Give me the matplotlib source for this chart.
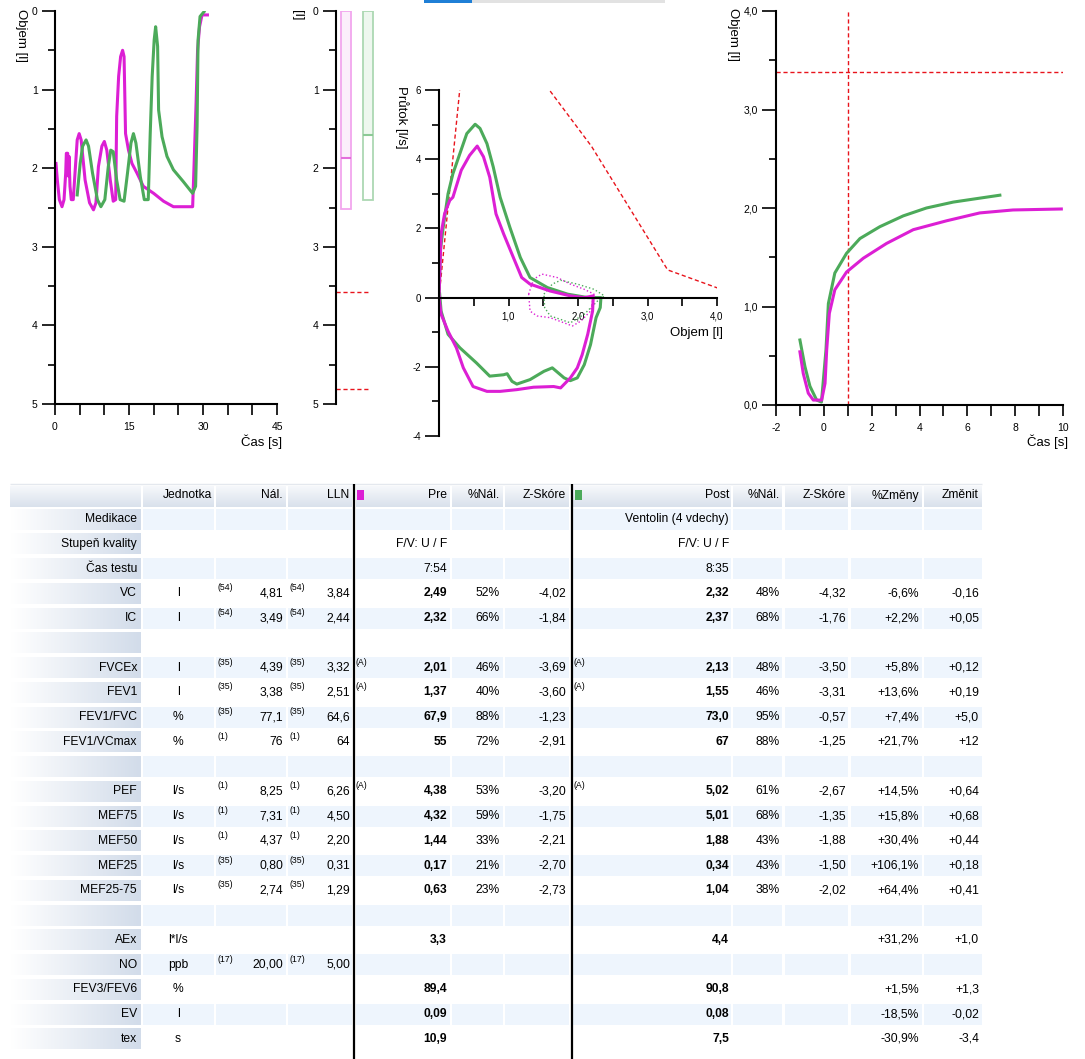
import numpy as np
import matplotlib.pyplot as plt
from matplotlib.patches import Rectangle
from matplotlib.colors import LinearSegmentedColormap

plt.rcParams['font.family'] = ['Liberation Sans', 'DejaVu Sans']
plt.rcParams['axes.unicode_minus'] = False

PRE = '#dc1fd4'
POST = '#4caa5a'
RED = '#e8141c'

# ---- tidal breathing + VC manoeuvre (volume vs time) ----
trend_t_pre = [0.2, 0.47, 0.88, 1.42, 1.83, 2.17, 2.3, 2.57, 2.7, 2.84, 3.04, 3.3, 3.7, 4.1, 4.5,
               4.9, 5.3, 6.1, 7.0, 7.8, 8.3, 8.8, 9.5, 10.0, 10.5, 11.2, 11.8, 12.3, 12.5, 12.9,
               13.3, 13.7, 14.0, 14.3, 14.9, 15.6, 16.6, 17.9, 20.0, 22.0, 24.0, 27.9, 28.2,
               28.6, 28.9, 29.3, 29.8, 30.9]
trend_v_pre = [1.94, 2.15, 2.40, 2.49, 2.40, 2.06, 1.81, 1.81, 2.10, 1.85, 2.23, 2.40, 2.40, 2.02, 1.64,
               1.56, 1.64, 2.15, 2.44, 2.53, 2.44, 1.98, 1.72, 1.66, 1.77, 2.15, 2.42, 2.40, 1.34, 0.83,
               0.58, 0.50, 0.58, 1.56, 1.77, 1.94, 2.06, 2.23, 2.32, 2.42, 2.49, 2.49, 1.94,
               1.17, 0.50, 0.20, 0.05, 0.05]
trend_t_post = [4.5, 5.1, 5.6, 6.3, 6.8, 7.6, 8.6, 9.3, 10.1, 10.8, 11.3, 11.8, 12.5, 13.2, 14.0,
                14.7, 15.4, 15.9, 16.4, 17.3, 18.1, 18.9, 19.3, 19.7, 20.1, 20.4, 20.8, 21.0, 21.7,
                22.7, 24.0, 26.0, 27.9, 28.5, 28.8, 29.0, 29.4, 30.2]
trend_v_post = [2.34, 1.94, 1.72, 1.64, 1.72, 2.06, 2.40, 2.49, 2.40, 1.98, 1.77, 1.79, 2.15, 2.40, 2.42,
                2.06, 1.68, 1.56, 1.68, 2.11, 2.40, 2.40, 1.56, 0.83, 0.37, 0.20, 0.45, 1.26, 1.60,
                1.85, 2.02, 2.17, 2.32, 2.23, 1.47, 0.37, 0.07, 0.01]

# ---- volume bars (pre, post) ----
bar_bottom = [2.52, 2.40]
bar_mark = [1.87, 1.58]
bar_pred_lines = [3.57, 4.81]

# ---- flow-volume loops ----
fv_pre_x = [0.0, 0.03, 0.08, 0.155, 0.2, 0.32, 0.44, 0.55, 0.64, 0.73, 0.82, 0.93, 1.07, 1.19, 1.31,
            1.6, 1.89, 2.09, 2.22, 2.21, 2.14, 2.06, 1.99, 1.89, 1.75, 1.65, 1.36, 1.12, 0.88, 0.69,
            0.49, 0.35, 0.25, 0.13, 0.03, 0.0]
fv_pre_y = [0.0, 1.84, 2.42, 2.81, 2.9, 3.68, 4.11, 4.38, 4.07, 3.48, 2.42, 1.84, 1.16, 0.58, 0.39,
            0.19, 0.05, 0.0, 0.05, -0.39, -1.06, -1.65, -2.03, -2.32, -2.61, -2.57, -2.59, -2.66, -2.71, -2.71,
            -2.57, -2.03, -1.45, -0.97, -0.48, 0.0]
fv_post_x = [0.0, 0.02, 0.06, 0.13, 0.2, 0.3, 0.4, 0.52, 0.59, 0.69, 0.78, 0.88, 1.02, 1.17, 1.31,
             1.56, 1.85, 2.14, 2.33, 2.32, 2.26, 2.18, 2.09, 1.99, 1.89, 1.8, 1.63, 1.51, 1.31, 1.12,
             1.05, 0.98, 0.93, 0.73, 0.54, 0.3, 0.13, 0.03, 0.01]
fv_post_y = [0.0, 1.36, 2.03, 3.0, 3.58, 4.16, 4.74, 5.01, 4.89, 4.45, 3.78, 2.9, 2.03, 1.16, 0.58,
             0.29, 0.1, 0.0, 0.0, -0.29, -0.58, -1.36, -1.94, -2.32, -2.4, -2.32, -2.03, -2.13, -2.37, -2.5,
             -2.42, -2.2, -2.23, -2.27, -1.89, -1.45, -1.06, -0.39, 0.1]
tidal_pre_x = [1.29, 1.36, 1.48, 1.7, 1.89, 2.09, 2.23, 2.18, 2.04, 1.92, 1.8, 1.6, 1.41, 1.31, 1.29]
tidal_pre_y = [0.1, 0.53, 0.68, 0.58, 0.39, 0.24, 0.1, -0.39, -0.68, -0.82, -0.73, -0.58, -0.53, -0.39, 0.1]
tidal_post_x = [1.51, 1.63, 1.75, 1.99, 2.23, 2.38, 2.28, 2.09, 1.89, 1.75, 1.6, 1.52, 1.51]
tidal_post_y = [0.1, 0.39, 0.5, 0.39, 0.24, 0.05, -0.1, -0.48, -0.73, -0.63, -0.53, -0.29, 0.1]
fv_pred_x = [0.0, 0.41, 1.10, 2.195, 3.29, 4.39]
fv_pred_y = [0.0, 8.25, 7.31, 4.37, 0.80, 0.0]
fv_xticklabels = ['1,0', '2,0', '3,0', '4,0']

# ---- forced expiration (volume vs time) ----
vt_pre_t = [-1.0, -0.86, -0.65, -0.44, -0.23, -0.09, 0.05, 0.12, 0.23, 0.46, 0.95, 1.65, 2.62,
            3.74, 5.13, 6.52, 7.91, 9.93]
vt_pre_v = [0.54, 0.32, 0.12, 0.05, 0.05, 0.05, 0.22, 0.56, 0.93, 1.17, 1.35, 1.49, 1.64,
            1.78, 1.87, 1.95, 1.98, 1.99]
vt_post_t = [-1.0, -0.79, -0.58, -0.3, -0.1, 0.09, 0.19, 0.46, 0.95, 1.51, 2.34, 3.32, 4.29,
             5.41, 6.52, 7.36]
vt_post_v = [0.66, 0.39, 0.19, 0.05, 0.03, 0.56, 1.03, 1.34, 1.54, 1.69, 1.81, 1.92, 2.0,
             2.06, 2.1, 2.13]
fev1_pred = 3.38
fev1_time = 1.0
vt_yticklabels = ['0,0', '1,0', '2,0', '3,0', '4,0']

# ---- table ----
row_labels = ['Medikace', 'Stupeň kvality', 'Čas testu', 'VC', 'IC', '', 'FVCEx', 'FEV1', 'FEV1/FVC',
              'FEV1/VCmax', '', 'PEF', 'MEF75', 'MEF50', 'MEF25', 'MEF25-75', '', 'AEx', 'NO',
              'FEV3/FEV6', 'EV', 'tex']
units = ['', '', '', 'l', 'l', '', 'l', 'l', '%', '%', '', 'l/s', 'l/s', 'l/s', 'l/s', 'l/s', '',
         'l*l/s', 'ppb', '%', 'l', 's']
ref_src = ['', '', '', '(54)', '(54)', '', '(35)', '(35)', '(35)', '(1)', '', '(1)', '(1)', '(1)',
           '(35)', '(35)', '', '', '(17)', '', '', '']
pred_vals = ['', '', '', '4,81', '3,49', '', '4,39', '3,38', '77,1', '76', '', '8,25', '7,31', '4,37',
             '0,80', '2,74', '', '', '20,00', '', '', '']
lln_vals = ['', '', '', '3,84', '2,44', '', '3,32', '2,51', '64,6', '64', '', '6,26', '4,50', '2,20',
            '0,31', '1,29', '', '', '5,00', '', '', '']
flags = ['', '', '', '', '', '', '(A)', '(A)', '', '', '', '(A)', '', '', '', '', '', '', '', '', '', '']
pre_vals = ['', 'F/V: U / F', '7:54', '2,49', '2,32', '', '2,01', '1,37', '67,9', '55', '', '4,38', '4,32',
            '1,44', '0,17', '0,63', '', '3,3', '', '89,4', '0,09', '10,9']
pre_pct = ['', '', '', '52%', '66%', '', '46%', '40%', '88%', '72%', '', '53%', '59%', '33%', '21%',
           '23%', '', '', '', '', '', '']
pre_z = ['', '', '', '-4,02', '-1,84', '', '-3,69', '-3,60', '-1,23', '-2,91', '', '-3,20', '-1,75',
         '-2,21', '-2,70', '-2,73', '', '', '', '', '', '']
post_vals = ['Ventolin (4 vdechy)', 'F/V: U / F', '8:35', '2,32', '2,37', '', '2,13', '1,55', '73,0', '67',
             '', '5,02', '5,01', '1,88', '0,34', '1,04', '', '4,4', '', '90,8', '0,08', '7,5']
post_pct = ['', '', '', '48%', '68%', '', '48%', '46%', '95%', '88%', '', '61%', '68%', '43%', '43%',
            '38%', '', '', '', '', '', '']
post_z = ['', '', '', '-4,32', '-1,76', '', '-3,50', '-3,31', '-0,57', '-1,25', '', '-2,67', '-1,35',
          '-1,88', '-1,50', '-2,02', '', '', '', '', '', '']
chg_pct = ['', '', '', '-6,6%', '+2,2%', '', '+5,8%', '+13,6%', '+7,4%', '+21,7%', '', '+14,5%',
           '+15,8%', '+30,4%', '+106,1%', '+64,4%', '', '+31,2%', '', '+1,5%', '-18,5%', '-30,9%']
chg_abs = ['', '', '', '-0,16', '+0,05', '', '+0,12', '+0,19', '+5,0', '+12', '', '+0,64', '+0,68',
           '+0,44', '+0,18', '+0,41', '', '+1,0', '', '+1,3', '-0,02', '-3,4']
headers = ['Jednotka', 'Nál.', 'LLN', 'Pre', '%Nál.', 'Z-Skóre', 'Post', '%Nál.', 'Z-Skóre',
           '%Změny', 'Změnit']

W, H = 1085, 1059
fig = plt.figure(figsize=(W / 100, H / 100), dpi=100)


def px_axes(x0, y0, x1, y1):
    return fig.add_axes([x0 / W, 1 - y1 / H, (x1 - x0) / W, (y1 - y0) / H])


def style_axes(ax, spines=('left', 'bottom')):
    for s in ['left', 'right', 'top', 'bottom']:
        ax.spines[s].set_visible(s in spines)
        ax.spines[s].set_linewidth(1.5)
    ax.patch.set_alpha(0)
    ax.tick_params(labelsize=7.5, width=1.2)


# table overlay (full figure, pixel coords)
tab = fig.add_axes([0, 0, 1, 1])
tab.axis('off')

# top scroll marker
tab.add_patch(Rectangle((424, 0), 48, 2.5, color='#1f7fd6', lw=0))
tab.add_patch(Rectangle((472, 0), 193, 2.5, color='#e2e2e2', lw=0))

# ---- panel 1 ----
ax1 = px_axes(55, 11, 277, 404)
style_axes(ax1)
ax1.plot(trend_t_pre, trend_v_pre, color=PRE, lw=2.2)
ax1.plot(trend_t_post, trend_v_post, color=POST, lw=2.2)
ax1.set_xlim(0, 45)
ax1.set_ylim(5, 0)
ax1.set_xticks([0, 15, 30, 45])
ax1.set_xticks(np.arange(0, 46, 5), minor=True)
ax1.set_yticks(range(6))
ax1.set_yticks(np.arange(0, 5.01, 0.5), minor=True)
ax1.tick_params(axis='x', which='both', length=8, width=1.2, pad=5)
ax1.tick_params(axis='y', which='major', length=9.5, pad=3)
ax1.tick_params(axis='y', which='minor', length=5, width=1.2)
fig.text(21 / W, 1 - 9 / H, 'Objem [l]', rotation=270, ha='center', va='top', fontsize=9.5)
fig.text(282 / W, 1 - 442 / H, 'Čas [s]', ha='right', va='center', fontsize=9.5)

# ---- panel 2 ----
ax2 = px_axes(336, 11, 376, 404)
style_axes(ax2, spines=('left',))
ax2.bar([10, 32], bar_mark, width=10, bottom=0, color=['#fbeefb', '#eef7ef'], lw=0)
ax2.bar([10, 32], bar_bottom, width=10, bottom=0, fill=False,
        edgecolor=['#f2a6ee', '#acd8b3'], lw=1.3)
ax2.hlines(bar_mark[0], 5, 15, color='#e36fdc', lw=1.5)
ax2.hlines(bar_mark[1], 27, 37, color='#8cc996', lw=1.5)
ax2.hlines(bar_pred_lines, 0, 34, color=RED, lw=1, linestyles=(0, (3, 2)))
ax2.set_xlim(0, 40)
ax2.set_ylim(5, 0)
ax2.set_xticks([])
ax2.set_yticks(range(6))
ax2.set_yticks(np.arange(0, 5.01, 0.5), minor=True)
ax2.tick_params(axis='y', which='major', length=9.5, pad=3)
ax2.tick_params(axis='y', which='minor', length=5, width=1.2)
fig.text(297 / W, 1 - 10 / H, '[l]', rotation=270, ha='center', va='top', fontsize=9.5)

# ---- panel 3: flow-volume ----
ax3 = px_axes(439, 90, 717, 436)
style_axes(ax3)
ax3.spines['bottom'].set_position(('data', 0))
ax3.plot(fv_pred_x, fv_pred_y, color=RED, lw=1, ls=(0, (3, 2)))
ax3.plot(tidal_pre_x, tidal_pre_y, color=PRE, lw=1, ls=':')
ax3.plot(tidal_post_x, tidal_post_y, color=POST, lw=1, ls=':')
ax3.plot(fv_post_x, fv_post_y, color=POST, lw=2.2)
ax3.plot(fv_pre_x, fv_pre_y, color=PRE, lw=2.2)
ax3.set_xlim(0, 4)
ax3.set_ylim(-4, 6)
ax3.set_xticks([1, 2, 3, 4])
ax3.set_xticklabels(fv_xticklabels)
ax3.set_xticks([0.5, 1.5, 2.5, 3.5], minor=True)
ax3.set_yticks([-4, -2, 0, 2, 4, 6])
ax3.set_yticks([-3, -1, 1, 3, 5], minor=True)
ax3.tick_params(labelsize=7)
ax3.tick_params(axis='x', which='both', length=6, width=1.2, pad=4)
ax3.tick_params(axis='y', which='major', length=10, pad=3)
ax3.tick_params(axis='y', which='minor', length=5, width=1.2)
fig.text(402 / W, 1 - 86 / H, 'Průtok [l/s]', rotation=270, ha='center', va='top', fontsize=9.5)
fig.text(723 / W, 1 - 333 / H, 'Objem [l]', ha='right', va='center', fontsize=9.5)

# ---- panel 4: volume-time ----
ax4 = px_axes(776, 11, 1063, 405)
style_axes(ax4)
ax4.axhline(fev1_pred, color=RED, lw=1, ls=(0, (3, 2)))
ax4.axvline(fev1_time, color=RED, lw=1, ls=(0, (3, 2)))
ax4.plot(vt_post_t, vt_post_v, color=POST, lw=2.2)
ax4.plot(vt_pre_t, vt_pre_v, color=PRE, lw=2.2)
ax4.set_xlim(-2, 10)
ax4.set_ylim(0, 4)
ax4.set_xticks(range(-2, 11, 2))
ax4.set_xticks(range(-1, 10, 2), minor=True)
ax4.set_yticks(range(5))
ax4.set_yticklabels(vt_yticklabels)
ax4.set_yticks(np.arange(0.5, 4, 1), minor=True)
ax4.tick_params(axis='x', which='both', length=8, width=1.2, pad=5)
ax4.tick_params(axis='y', which='major', length=10, pad=3)
ax4.tick_params(axis='y', which='minor', length=5, width=1.2)
fig.text(733 / W, 1 - 8 / H, 'Objem [l]', rotation=270, ha='center', va='top', fontsize=9.5)
fig.text(1068 / W, 1 - 442 / H, 'Čas [s]', ha='right', va='center', fontsize=9.5)

# ---- table drawing ----
cells = [(143, 214), (216, 286), (288, 352), (356, 450), (452, 503), (505, 569),
         (573, 731), (733, 782), (785, 848), (851, 922), (924, 982)]
LBL = (10, 141)
ROW0, ROWH, CH = 519.2, 24.75, 21
BLUE = '#eef5fd'
fs = 8.7

hgrad = LinearSegmentedColormap.from_list('h', ['#ffffff', '#d2dcea'])
vgrad = LinearSegmentedColormap.from_list('v', ['#f6f8fb', '#d9e1ec'])
hg = np.linspace(0, 1, 64).reshape(1, -1)
vg = np.linspace(0, 1, 32).reshape(-1, 1)

tab.hlines(484, 10, 982, color='#e4e8ee', lw=1)
# header
hy0, hy1 = 486, 507
tab.imshow(vg, cmap=vgrad, extent=(LBL[0], LBL[1], hy1, hy0), aspect='auto')
for (x0, x1) in cells:
    tab.imshow(vg, cmap=vgrad, extent=(x0, x1, hy1, hy0), aspect='auto')
hdr_right = [212, 283, 349, 447, 500, 566, 729, 780, 846, 919, 979]
for txt, xr in zip(headers, hdr_right):
    tab.text(xr, 495.5, txt, ha='right', va='center', fontsize=fs)
tab.add_patch(Rectangle((357, 490), 7, 10, color=PRE, lw=0))
tab.add_patch(Rectangle((575, 490), 7, 10, color=POST, lw=0))

for i, lab in enumerate(row_labels):
    yc = ROW0 + i * ROWH
    y0, y1 = yc - CH / 2, yc + CH / 2
    tab.imshow(hg, cmap=hgrad, extent=(LBL[0], LBL[1], y1, y0), aspect='auto')
    if i % 2 == 0:
        for (x0, x1) in cells:
            tab.add_patch(Rectangle((x0, y0), x1 - x0, CH, color=BLUE, lw=0))
    sup_y = yc - 5.5
    tab.text(137, yc, lab, ha='right', va='center', fontsize=fs)
    tab.text(178, yc, units[i], ha='center', va='center', fontsize=fs)
    tab.text(218, sup_y, ref_src[i], ha='left', va='center', fontsize=6.3)
    tab.text(283, yc, pred_vals[i], ha='right', va='center', fontsize=fs)
    tab.text(289, sup_y, ref_src[i], ha='left', va='center', fontsize=6.3)
    tab.text(350, yc, lln_vals[i], ha='right', va='center', fontsize=fs)
    tab.text(356, sup_y, flags[i], ha='left', va='center', fontsize=6.3)
    tab.text(574, sup_y, flags[i], ha='left', va='center', fontsize=6.3)
    bold = 'bold' if i >= 3 else 'normal'
    tab.text(447, yc, pre_vals[i], ha='right', va='center', fontsize=fs, fontweight=bold)
    tab.text(500, yc, pre_pct[i], ha='right', va='center', fontsize=fs)
    tab.text(566, yc, pre_z[i], ha='right', va='center', fontsize=fs)
    tab.text(729, yc, post_vals[i], ha='right', va='center', fontsize=fs, fontweight=bold)
    tab.text(780, yc, post_pct[i], ha='right', va='center', fontsize=fs)
    tab.text(846, yc, post_z[i], ha='right', va='center', fontsize=fs)
    tab.text(919, yc, chg_pct[i], ha='right', va='center', fontsize=fs)
    tab.text(979, yc, chg_abs[i], ha='right', va='center', fontsize=fs)

tab.vlines([354, 571.5], 484, H, color='black', lw=1.6)
tab.set_xlim(0, W)
tab.set_ylim(H, 0)

fig.savefig('out.png', dpi=100, facecolor='white')
